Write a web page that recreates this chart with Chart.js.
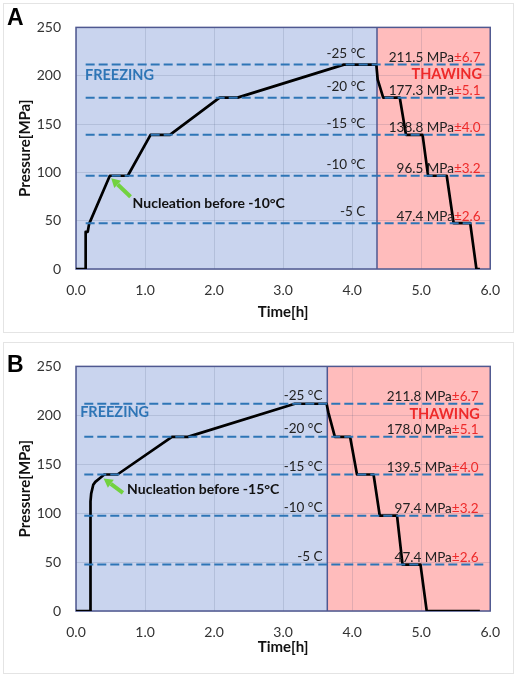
<!DOCTYPE html>
<html>
<head>
<meta charset="utf-8">
<script src="https://cdn.jsdelivr.net/npm/chart.js@4.4.1/dist/chart.umd.min.js"></script>
<style>
  body { margin: 0; background: #fff; }
  .panel { position: absolute; left: 3px; width: 509px; border: 1px solid #e4e4e4; background: #fff; }
  #boxA { top: 3px; height: 328px; }
  #boxB { top: 342px; height: 330px; }
  canvas { display: block; }
</style>
</head>
<body>
<div class="panel" id="boxA"><canvas id="chartA" width="509" height="328"></canvas></div>
<div class="panel" id="boxB"><canvas id="chartB" width="509" height="330"></canvas></div>
<script>
'use strict';

// pressure curves
const timeA  = [0, 0.14, 0.14, 0.17, 0.19, 0.49, 0.75, 1.08, 1.36, 2.08, 2.34, 3.88, 4.35, 4.37, 4.45, 4.69, 4.78, 5.02, 5.10, 5.37, 5.47, 5.71, 5.80, 5.85];
const pressA = [0, 0, 38.5, 38.5, 46.7, 96.5, 96.5, 138.8, 138.8, 177.3, 177.3, 211.5, 211.5, 196, 177.3, 177.3, 138.8, 138.8, 96.5, 96.5, 47.4, 47.4, 0, 0];

const timeB  = [0, 0.21, 0.21, 0.22, 0.25, 0.28, 0.34, 0.41, 0.60, 1.39, 1.62, 3.17, 3.63, 3.655, 3.75, 3.97, 4.07, 4.31, 4.40, 4.65, 4.73, 4.99, 5.08, 5.85];
const pressB = [0, 0, 112, 120, 129, 132, 135.5, 139.5, 139.5, 178, 178, 211.8, 211.8, 203, 178, 178, 139.5, 139.5, 97.4, 97.4, 47.4, 47.4, 0, 0];

// plateau levels and their spread
const levelsA = [211.5, 177.3, 138.8, 96.5, 47.4];
const levelsB = [211.8, 178.0, 139.5, 97.4, 47.4];
const spread  = [6.7, 5.1, 4.0, 3.2, 2.6];
const tempLabels = ['-25 °C', '-20 °C', '-15 °C', '-10 °C', '-5 C'];

// ticks
const xTicks = [0, 1, 2, 3, 4, 5, 6];
const yTicks = [0, 50, 100, 150, 200, 250];

const FONT = 'Lato';
const BLUE = '#2e75b6';
const RED = '#ee2a2a';

const panels = {
    A: {
        letter: 'A', time: timeA, press: pressA, levels: levelsA,
        freezeEnd: 4.36, dash: [0.14, 5.95],
        tempX: 4.19, tempLift: 7, mpaX: 5.86, mpaLift: 2.5,
        freezeAt: [0.13, 200.6], thawAt: [5.88, 201.6],
        note: 'Nucleation before -10°C', noteAt: [0.82, 68.2],
        arrowTail: [0.79, 74.8], arrowTip: [0.51, 93.9],
        letterY: 21, xTitlePad: 11
    },
    B: {
        letter: 'B', time: timeB, press: pressB, levels: levelsB,
        freezeEnd: 3.64, dash: [0.12, 5.93],
        tempX: 3.57, tempLift: 3.5, mpaX: 5.83, mpaLift: 2.5,
        freezeAt: [0.06, 202.8], thawAt: [5.85, 201],
        note: 'Nucleation before -15°C', noteAt: [0.74, 124],
        arrowTail: [0.68, 120.8], arrowTip: [0.40, 135.5],
        letterY: 29, xTitlePad: 17
    }
};

function makeDecor(p) {
    return {
        id: 'decor' + p.letter,
        beforeDraw(chart) {
            const { ctx, chartArea: a, scales: { x } } = chart;
            const xb = x.getPixelForValue(p.freezeEnd);
            ctx.save();
            ctx.fillStyle = '#c9d4ee';
            ctx.fillRect(a.left, a.top, xb - a.left, a.bottom - a.top);
            ctx.fillStyle = '#ffbcbc';
            ctx.fillRect(xb, a.top, a.right - xb, a.bottom - a.top);
            ctx.restore();
        },
        beforeDatasetsDraw(chart) {
            const { ctx, chartArea: a, scales: { x } } = chart;
            const xb = x.getPixelForValue(p.freezeEnd);
            ctx.save();
            ctx.strokeStyle = '#4f5890';
            ctx.lineWidth = 1.5;
            ctx.strokeRect(a.left, a.top, a.right - a.left, a.bottom - a.top);
            ctx.beginPath();
            ctx.moveTo(xb, a.top);
            ctx.lineTo(xb, a.bottom);
            ctx.stroke();
            ctx.restore();
        },
        afterDatasetsDraw(chart) {
            const { ctx, scales: { x, y } } = chart;
            const px = v => x.getPixelForValue(v);
            const py = v => y.getPixelForValue(v);
            ctx.save();

            // temperatures and plateau pressures
            ctx.font = '13.5px ' + FONT;
            ctx.textBaseline = 'alphabetic';
            p.levels.forEach((lvl, i) => {
                const ly = py(lvl);
                ctx.textAlign = 'right';
                ctx.fillStyle = '#222';
                ctx.fillText(tempLabels[i], px(p.tempX), ly - p.tempLift);

                const err = '±' + spread[i].toFixed(1);
                const errW = ctx.measureText(err).width;
                const right = px(p.mpaX);
                ctx.fillStyle = RED;
                ctx.fillText(err, right, ly - p.mpaLift);
                ctx.fillStyle = '#222';
                ctx.fillText(lvl.toFixed(1) + ' MPa', right - errW, ly - p.mpaLift);
            });

            // region names
            ctx.font = 'bold 14.5px ' + FONT;
            ctx.textBaseline = 'middle';
            ctx.textAlign = 'left';
            ctx.fillStyle = BLUE;
            ctx.fillText('FREEZING', px(p.freezeAt[0]), py(p.freezeAt[1]));
            ctx.textAlign = 'right';
            ctx.fillStyle = RED;
            ctx.fillText('THAWING', px(p.thawAt[0]), py(p.thawAt[1]));

            // nucleation note + arrow
            ctx.font = 'bold 14px ' + FONT;
            ctx.textAlign = 'left';
            ctx.fillStyle = '#111';
            ctx.fillText(p.note, px(p.noteAt[0]), py(p.noteAt[1]));

            const tx = px(p.arrowTail[0]), ty = py(p.arrowTail[1]);
            const hx = px(p.arrowTip[0]), hy = py(p.arrowTip[1]);
            const ang = Math.atan2(hy - ty, hx - tx);
            const headLen = 9, headW = 5;
            const bx = hx - headLen * Math.cos(ang), by = hy - headLen * Math.sin(ang);
            ctx.strokeStyle = '#72d23f';
            ctx.fillStyle = '#72d23f';
            ctx.lineWidth = 4;
            ctx.beginPath();
            ctx.moveTo(tx, ty);
            ctx.lineTo(bx, by);
            ctx.stroke();
            ctx.beginPath();
            ctx.moveTo(hx, hy);
            ctx.lineTo(bx + headW * Math.sin(ang), by - headW * Math.cos(ang));
            ctx.lineTo(bx - headW * Math.sin(ang), by + headW * Math.cos(ang));
            ctx.closePath();
            ctx.fill();

            // panel letter
            ctx.font = 'bold 23px "Liberation Sans"';
            ctx.textAlign = 'left';
            ctx.textBaseline = 'alphabetic';
            ctx.fillStyle = '#000';
            ctx.fillText(p.letter, 3, p.letterY);
            ctx.restore();
        }
    };
}

function makeChart(canvasId, p) {
    const canvas = document.getElementById(canvasId);
    const curve = p.time.map((t, i) => ({ x: t, y: p.press[i] }));
    const dashed = p.levels.map(lvl => ({
        data: [{ x: p.dash[0], y: lvl }, { x: p.dash[1], y: lvl }],
        borderColor: BLUE,
        borderWidth: 2,
        borderDash: [9, 4],
        pointRadius: 0,
        tension: 0
    }));
    const chartTop = canvasId === 'chartA' ? 12 : 14;
    const xAxisH = canvas.height - (canvasId === 'chartA' ? 265 : 268);

    return new Chart(canvas, {
        type: 'line',
        data: {
            datasets: dashed.concat([{
                data: curve,
                borderColor: '#000',
                borderWidth: 2.7,
                pointRadius: 0,
                tension: 0,
                borderJoinStyle: 'round'
            }])
        },
        options: {
            responsive: false,
            animation: false,
            layout: { padding: { left: 0, right: 16, top: chartTop, bottom: 0 } },
            plugins: { legend: { display: false }, tooltip: { enabled: false } },
            scales: {
                x: {
                    type: 'linear', min: 0, max: 6,
                    afterBuildTicks: s => { s.ticks = xTicks.map(v => ({ value: v })); },
                    afterFit: s => { s.height = xAxisH; },
                    grid: { color: 'rgba(70,80,120,0.16)', drawTicks: false },
                    border: { display: false },
                    ticks: { padding: 13, color: '#333', font: { family: FONT, size: 14 }, callback: v => v.toFixed(1) },
                    title: { display: true, text: 'Time[h]', color: '#111', font: { family: FONT, size: 15, weight: 'bold' }, padding: { top: 0, bottom: p.xTitlePad } }
                },
                y: {
                    type: 'linear', min: 0, max: 250,
                    afterBuildTicks: s => { s.ticks = yTicks.map(v => ({ value: v })); },
                    afterFit: s => { s.width = 72; },
                    grid: { color: 'rgba(70,80,120,0.16)', drawTicks: false },
                    border: { display: false },
                    ticks: { padding: 15, color: '#333', font: { family: FONT, size: 14 } },
                    title: { display: true, text: 'Pressure[MPa]', color: '#111', font: { family: FONT, size: 15, weight: 'bold' }, padding: { top: 12, bottom: 0 } }
                }
            }
        },
        plugins: [makeDecor(p)]
    });
}

makeChart('chartA', panels.A);
makeChart('chartB', panels.B);
</script>
</body>
</html>
